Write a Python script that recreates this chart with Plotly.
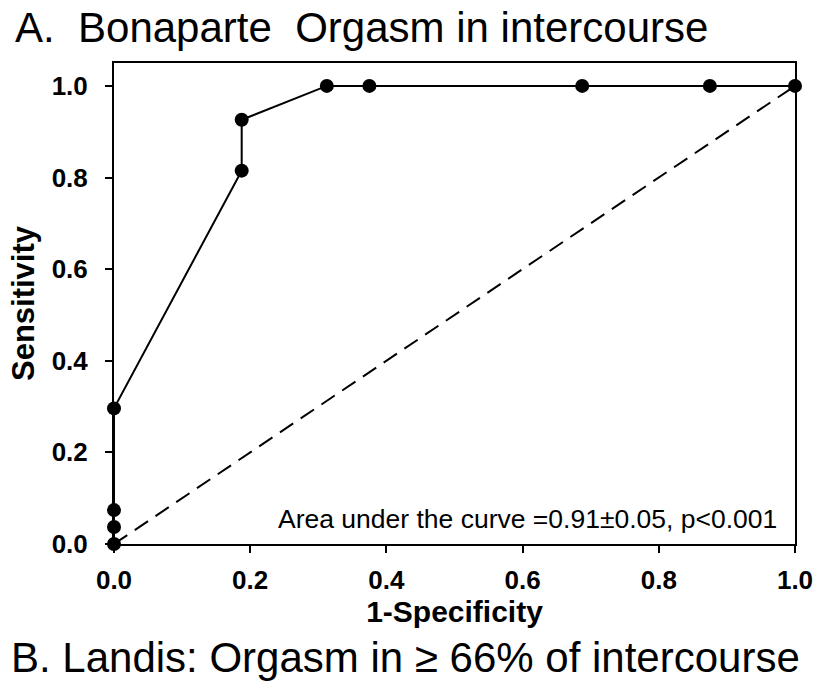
import plotly.graph_objects as go

# ROC data (1-Specificity vs Sensitivity)
fpr = [0.0, 0.0, 0.0, 0.0, 0.1875, 0.1875, 0.3125, 0.375, 0.6875, 0.875, 1.0]
tpr = [0.0, 0.037, 0.074, 0.296, 0.815, 0.926, 1.0, 1.0, 1.0, 1.0, 1.0]
ref_x = [0.0, 1.0]
ref_y = [0.0, 1.0]
tick_vals = [0.0, 0.2, 0.4, 0.6, 0.8, 1.0]
tick_text = ["0.0", "0.2", "0.4", "0.6", "0.8", "1.0"]

title_text = "A.  Bonaparte  Orgasm in intercourse"
next_title = "B. Landis: Orgasm in \u2265 66% of intercourse"
auc_text = "Area under the curve =0.91\u00b10.05, p<0.001"

FONT = "Liberation Sans, Arial, sans-serif"

fig = go.Figure()
fig.add_trace(go.Scatter(
    x=ref_x, y=ref_y, mode="lines",
    line=dict(color="black", width=2, dash="16px,9px"),
    hoverinfo="skip", showlegend=False, cliponaxis=False,
))
fig.add_trace(go.Scatter(
    x=fpr, y=tpr, mode="lines+markers",
    line=dict(color="black", width=2),
    marker=dict(color="black", size=14, symbol="circle"),
    showlegend=False, cliponaxis=False,
))

axis_common = dict(
    showline=True, linecolor="black", linewidth=2, mirror=True,
    ticks="outside", ticklen=7, tickwidth=2, tickcolor="black",
    showgrid=False, zeroline=False,
    tickvals=tick_vals, ticktext=tick_text,
    tickfont=dict(family=FONT, size=26, color="black", weight="bold"),
)

fig.update_layout(
    width=825, height=682,
    margin=dict(l=114, r=22, t=63, b=138),
    paper_bgcolor="white", plot_bgcolor="white",
    font=dict(family=FONT, color="black"),
    xaxis=dict(
        range=[0, 1.0], **axis_common,
        ticklabelstandoff=5,
        title=dict(text="1-Specificity", standoff=1,
                   font=dict(family=FONT, size=30, color="black", weight="bold")),
    ),
    yaxis=dict(
        range=[0, 1.05], **axis_common,
        ticklabelstandoff=12,
        title=dict(text="Sensitivity", standoff=8,
                   font=dict(family=FONT, size=31, color="black", weight="bold")),
    ),
    annotations=[
        dict(text=title_text, xref="paper", yref="paper",
             x=-102/689, y=1 + 61/481, xanchor="left", yanchor="top",
             showarrow=False, font=dict(family=FONT, size=42, color="black")),
        dict(text=auc_text, xref="x", yref="y",
             x=0.977, y=0.055, xanchor="right", yanchor="middle",
             showarrow=False, font=dict(family=FONT, size=26.5, color="black")),
        dict(text=next_title, xref="paper", yref="paper",
             x=-106/689, y=-88/481, xanchor="left", yanchor="top",
             showarrow=False, font=dict(family=FONT, size=42, color="black")),
    ],
)

fig.write_html("out.html")
